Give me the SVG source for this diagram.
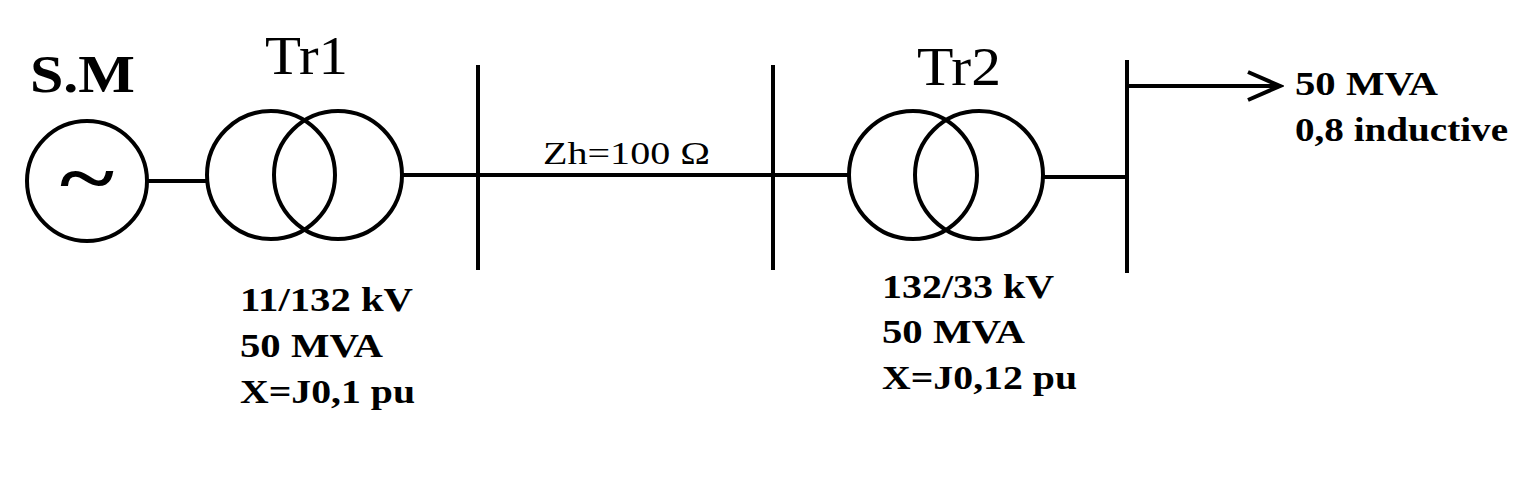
<svg xmlns="http://www.w3.org/2000/svg" width="1524" height="477" viewBox="0 0 1524 477">
<style>
.s{fill:none;stroke:#000;stroke-width:4}
.b{font-family:"Liberation Serif",serif;font-weight:bold;font-size:33px}
.n{font-family:"Liberation Serif",serif;font-size:54px}
</style>
<defs><marker id="a" markerWidth="40" markerHeight="40" refX="36" refY="16" orient="auto" markerUnits="userSpaceOnUse"><path d="M4,2 L36,16 L4,30" fill="none" stroke="#000" stroke-width="4"/></marker></defs>
<rect width="1524" height="477" fill="#fff"/>
<g id="gen"><circle class="s" cx="87" cy="181" r="60"/><text x="60" y="205" class="b" style="font-size:80px" textLength="54" lengthAdjust="spacingAndGlyphs">~</text><text x="30" y="92" class="b" style="font-size:52px" textLength="105" lengthAdjust="spacingAndGlyphs">S.M</text></g>
<g id="tr1"><circle class="s" cx="271" cy="175" r="64"/><circle class="s" cx="338" cy="175" r="64"/><text x="265" y="74" class="n" textLength="83" lengthAdjust="spacingAndGlyphs">Tr1</text>
<text x="240" y="311" class="b" textLength="173" lengthAdjust="spacingAndGlyphs">11/132 kV</text><text x="240" y="357" class="b" textLength="143" lengthAdjust="spacingAndGlyphs">50 MVA</text><text x="240" y="403" class="b" textLength="175" lengthAdjust="spacingAndGlyphs">X=J0,1 pu</text></g>
<g id="bus1"><line class="s" x1="478" y1="65" x2="478" y2="270"/></g>
<g id="bus2"><line class="s" x1="773" y1="65" x2="773" y2="270"/></g>
<g id="tr2"><circle class="s" cx="913" cy="175" r="64"/><circle class="s" cx="979" cy="175" r="64"/><text x="917" y="85" class="n" textLength="84" lengthAdjust="spacingAndGlyphs">Tr2</text>
<text x="882" y="298" class="b" textLength="172" lengthAdjust="spacingAndGlyphs">132/33 kV</text><text x="882" y="343" class="b" textLength="143" lengthAdjust="spacingAndGlyphs">50 MVA</text><text x="882" y="389" class="b" textLength="195" lengthAdjust="spacingAndGlyphs">X=J0,12 pu</text></g>
<g id="bus3"><line class="s" x1="1127" y1="60" x2="1127" y2="273"/></g>
<g id="load"><text x="1295" y="95" class="b" textLength="143" lengthAdjust="spacingAndGlyphs">50 MVA</text><text x="1295" y="141" class="b" textLength="213" lengthAdjust="spacingAndGlyphs">0,8 inductive</text></g>
<g id="connectors">
<line class="s" x1="147" y1="181" x2="207" y2="181"/>
<line class="s" x1="402" y1="175" x2="478" y2="175"/>
<line class="s" x1="478" y1="175" x2="773" y2="175"/>
<text x="543" y="164" style="font-family:'Liberation Serif',serif;font-size:31px" textLength="167" lengthAdjust="spacingAndGlyphs">Zh=100 Ω</text>
<line class="s" x1="773" y1="175" x2="849" y2="175"/>
<line class="s" x1="1043" y1="177" x2="1127" y2="177"/>
<line class="s" x1="1127" y1="86" x2="1280" y2="86" marker-end="url(#a)"/>
</g>
</svg>
